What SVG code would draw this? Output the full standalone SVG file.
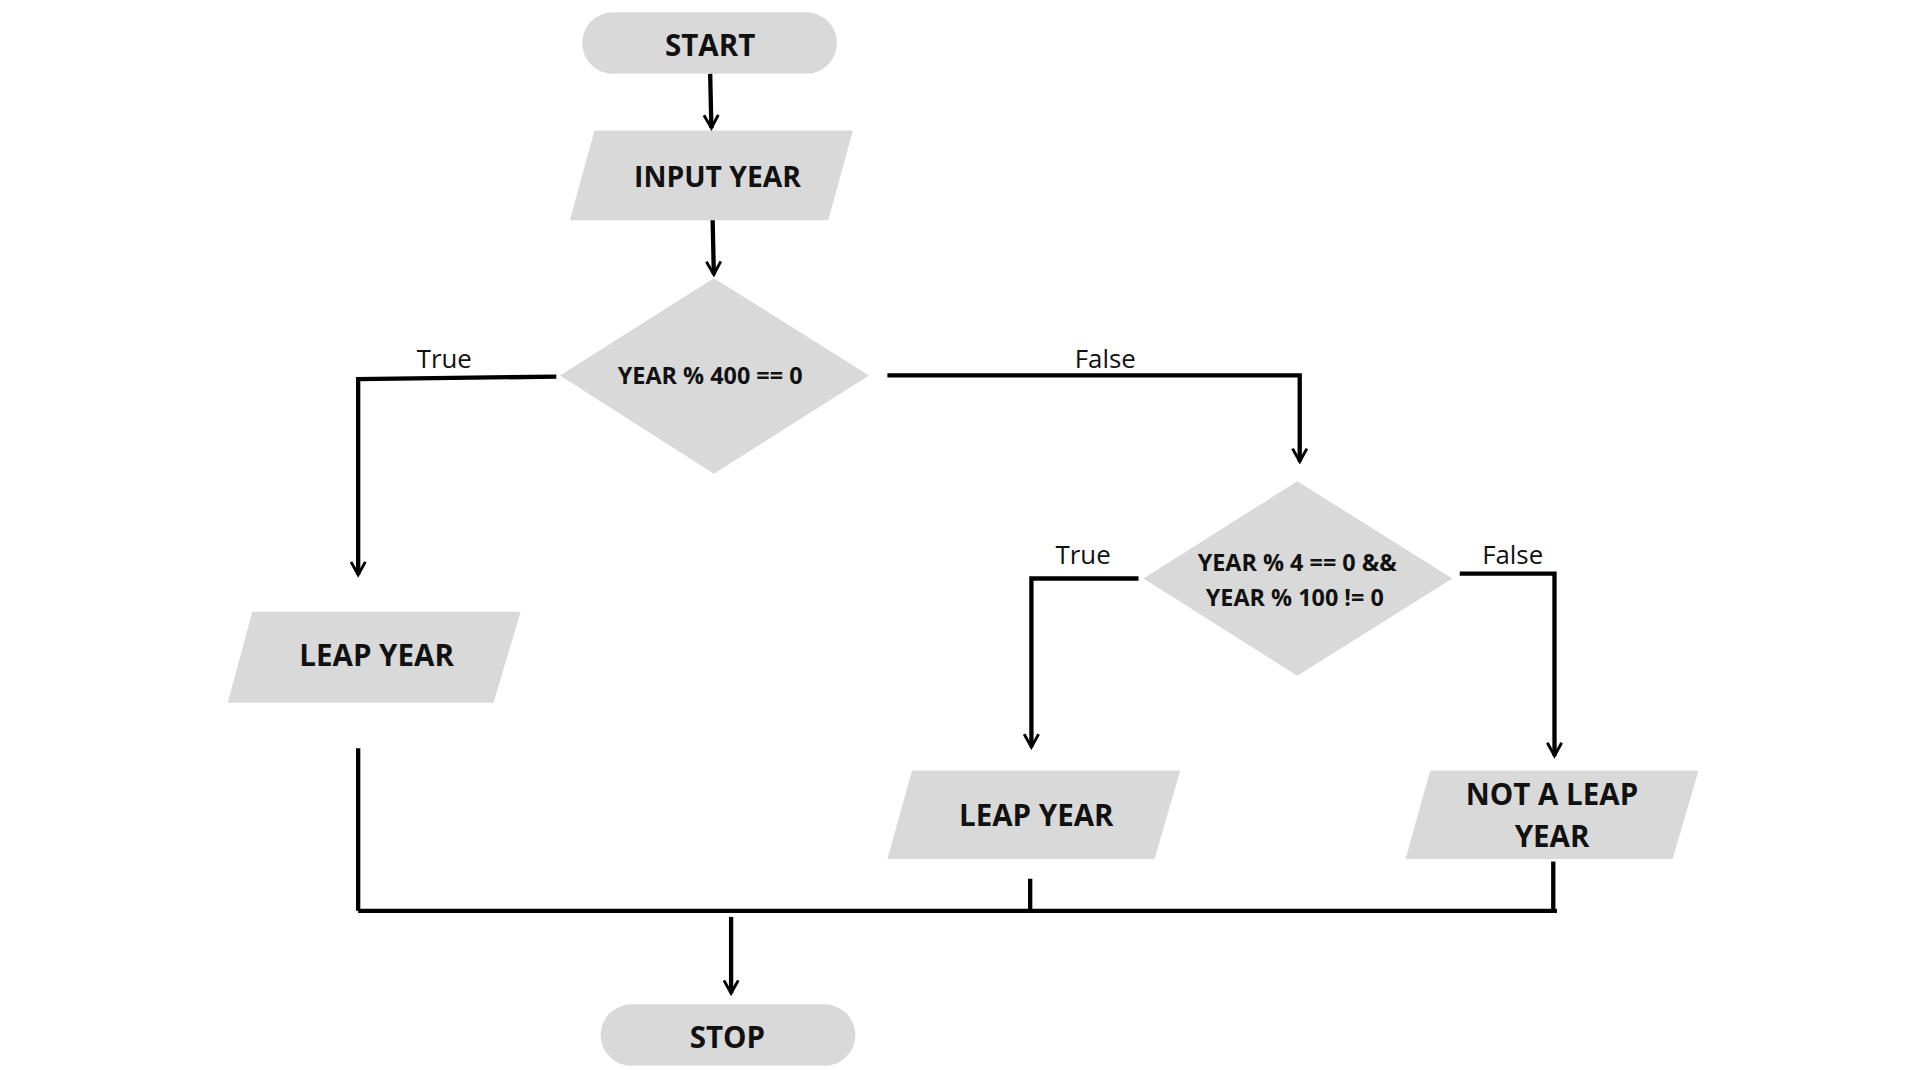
<svg xmlns="http://www.w3.org/2000/svg" width="1920" height="1080" viewBox="0 0 1920 1080">
<style>
.s{fill:#d9d9d9}
.t{font-family:"Open Sans",sans-serif;font-weight:bold;fill:#111;text-anchor:middle;dominant-baseline:central}
.l{font-family:"Open Sans",sans-serif;font-size:21px;fill:#111;text-anchor:middle}
.c{fill:none;stroke:#000;stroke-width:3.5}
.a{marker-end:url(#ah)}
</style>
<defs><marker id="ah" viewBox="0 0 12 12" refX="10" refY="6" markerWidth="4" markerHeight="4" orient="auto" markerUnits="strokeWidth"><path d="M1,1 L10,6 L1,11" fill="none" stroke="#000" stroke-width="2"/></marker></defs>
<rect width="1920" height="1080" fill="#fff"/>
<g transform="scale(1.2308)">
<g id="start"><rect class="s" x="473" y="10" width="207" height="50" rx="25"/><text class="t" x="577" y="36" font-size="24">START</text></g>
<g id="input"><polygon class="s" points="483,106 693,106 673,179 463,179"/><text class="t" x="583" y="143" font-size="23">INPUT YEAR</text></g>
<g id="d1"><polygon class="s" points="580,226 706,305 580,385 455,305"/><text class="t" x="577" y="305" font-size="19">YEAR % 400 == 0</text></g>
<g id="leap1"><polygon class="s" points="205,497 423,497 401,571 185,571"/><text class="t" x="306" y="532" font-size="24">LEAP YEAR</text></g>
<g id="d2"><polygon class="s" points="1054,391 1180,470 1054,549 929,470"/><text class="t" x="1054" y="457" font-size="19">YEAR % 4 == 0 &amp;&amp;</text><text class="t" x="1052" y="485" font-size="19">YEAR % 100 != 0</text></g>
<g id="leap2"><polygon class="s" points="741,626 959,626 938,698 721,698"/><text class="t" x="842" y="662" font-size="24">LEAP YEAR</text></g>
<g id="notleap"><polygon class="s" points="1162,626 1380,626 1359,698 1142,698"/><text class="t" x="1261" y="645" font-size="24">NOT A LEAP</text><text class="t" x="1261" y="679" font-size="24">YEAR</text></g>
<g id="stop"><rect class="s" x="488" y="816" width="207" height="50" rx="25"/><text class="t" x="591" y="842" font-size="24">STOP</text></g>
<g id="connectors">
<path class="c a" d="M577,60 L578,104"/>
<path class="c a" d="M579,179 L580,223"/>
<path class="c a" d="M452,306 L291,308 L291,467"/>
<path class="c a" d="M721,305 L1056,305 L1056,375"/>
<path class="c a" d="M925,470 L838,470 L838,607"/>
<path class="c a" d="M1186,466 L1263,466 L1263,614"/>
<path class="c" d="M291,608 L291,740 M837,714 L837,740 M1262,700 L1262,740 M291,740 L1265,740"/>
<path class="c a" d="M594,745 L594,807"/>
<text class="l" x="361" y="299">True</text>
<text class="l" x="898" y="299">False</text>
<text class="l" x="880" y="458">True</text>
<text class="l" x="1229" y="458">False</text>
</g>
</g>
</svg>
